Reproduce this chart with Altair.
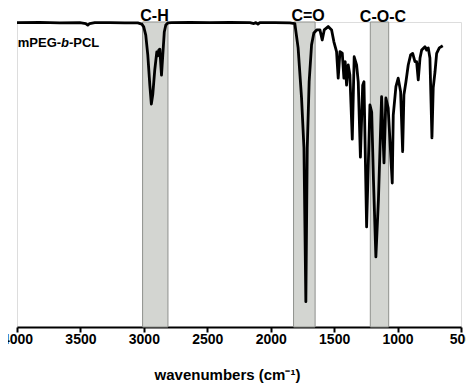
import altair as alt
import pandas as pd

# Spectrum: wavenumber (cm-1) and transmittance (%)
wavenumber = [4000, 3821, 3663, 3505, 3458, 3442, 3427, 3387, 3269, 3150, 3048, 3016,
              3001, 2985, 2969, 2953, 2941, 2930, 2914, 2898, 2890, 2882, 2874, 2861,
              2851, 2839, 2827, 2811, 2780, 2638, 2480, 2322, 2164, 2133, 2117, 2101,
              2086, 1967, 1849, 1810,
              1784, 1757, 1738, 1723, 1712, 1697, 1678, 1660, 1638, 1612, 1594, 1578,
              1547, 1520, 1502, 1481, 1468, 1454, 1436, 1423, 1413, 1402, 1389, 1376,
              1357, 1342, 1323, 1310, 1293, 1275, 1265, 1244, 1218, 1204, 1190, 1171,
              1151, 1126, 1107, 1092, 1074, 1042, 1034, 1013, 995, 976, 960, 950, 934,
              916, 897, 881, 863, 850, 837, 823, 810, 784, 771, 758, 745, 737, 729,
              719, 705, 692, 671, 644]
transmittance = [99.8, 99.9, 99.7, 99.8, 99.5, 99.0, 99.5, 99.8, 99.8, 99.7, 99.7, 99.3,
                 98.4, 95.7, 89.2, 79.3, 73.1, 76.1, 84.3, 90.2, 88.9, 90.8, 91.1, 82.6,
                 89.0, 96.7, 99.0, 99.7, 99.8, 99.9, 99.8, 99.9, 99.8, 99.5, 99.8, 99.3,
                 99.8, 99.8, 99.7, 99.5,
                 91.5, 75.1, 58.7, 8.3, 58.7, 80.4, 92.5, 96.4, 97.4, 97.4, 94.1, 97.4,
                 98.5, 97.4, 93.5, 90.3, 81.6, 90.3, 89.8, 81.6, 87.0, 79.3, 85.9, 82.6,
                 61.6, 88.6, 85.9, 80.4, 55.7, 79.3, 80.4, 32.8, 72.8, 70.5, 48.2, 23.0,
                 41.6, 75.5, 53.8, 75.1, 71.8, 47.2, 69.5, 78.8, 81.6, 77.1, 57.5, 76.1,
                 80.4, 85.9, 89.2, 89.7, 87.0, 87.0, 81.0, 88.2, 90.8, 91.9, 90.8, 91.5,
                 88.2, 75.1, 62.0, 78.4, 83.6, 89.7, 91.5, 92.2]

# Shaded bands
band_labels = ["C-H", "C=O", "C-O-C"]
band_start = [3010, 1820, 1215]
band_end = [2810, 1650, 1070]
band_label_x = [2916, 1705, 1115]
band_label_y = [101.9, 102.1, 101.6]

# Axis ticks
tick_values = [4000, 3750, 3500, 3250, 3000, 2750, 2500, 2250, 2000, 1750, 1500,
               1250, 1000, 750, 500]

FONT = "Liberation Sans"

spec = pd.DataFrame({"wn": wavenumber, "T": transmittance})
bands = pd.DataFrame({"label": band_labels, "x1": band_start, "x2": band_end,
                      "y1": [0] * 3, "y2": [100] * 3,
                      "lx": band_label_x, "ly": band_label_y})

xscale = alt.Scale(domain=[500, 4000], reverse=True, nice=False)
yscale = alt.Scale(domain=[0, 100], nice=False)

xaxis = alt.Axis(values=tick_values, format="d",
                 labelExpr="datum.value % 500 === 0 ? datum.label : ''",
                 title="wavenumbers (cm⁻¹)", grid=False,
                 domainColor="black", domainWidth=2, tickColor="black",
                 tickWidth=2, tickSize=5, labelFont=FONT, labelFontSize=14,
                 labelFontWeight="bold", labelColor="black", labelFlush=False,
                 labelOverlap=False, labelPadding=0,
                 titleFont=FONT, titleFontSize=15, titleFontWeight="bold",
                 titleColor="black", titleX=210, titleY=40, titleBaseline="top")

rects = alt.Chart(bands).mark_rect(color="#d3d5d1", stroke="#8f918d",
                                   strokeWidth=1).encode(
    x=alt.X("x1:Q", scale=xscale, axis=xaxis),
    x2="x2:Q",
    y=alt.Y("y1:Q", scale=yscale, axis=None),
    y2="y2:Q",
)

band_text = alt.Chart(bands).mark_text(font=FONT, fontSize=16, fontWeight="bold",
                                       color="black", baseline="middle").encode(
    x=alt.X("lx:Q", scale=xscale),
    y=alt.Y("ly:Q", scale=yscale),
    text="label:N",
)

line = alt.Chart(spec).mark_line(color="black", strokeWidth=2.8,
                                 strokeJoin="round").encode(
    x=alt.X("wn:Q", scale=xscale),
    y=alt.Y("T:Q", scale=yscale),
    order="idx:Q",
).transform_window(idx="row_number()")

name_df = pd.DataFrame({"x": [3994], "y": [93.1]})
parts = [("mPEG-", "normal", 0), ("b", "italic", 43.3), ("-PCL", "normal", 51.2)]
name_layers = []
for txt, style, dx in parts:
    name_layers.append(
        alt.Chart(name_df).mark_text(text=txt, font=FONT, fontSize=13,
                                     fontWeight="bold", fontStyle=style,
                                     color="black", align="left",
                                     baseline="middle", dx=dx).encode(
            x=alt.X("x:Q", scale=xscale),
            y=alt.Y("y:Q", scale=yscale),
        )
    )

chart = alt.layer(rects, line, band_text, *name_layers).properties(
    width=444, height=305,
    padding={"left": 9, "top": 14, "right": 5, "bottom": 60},
    autosize=alt.AutoSizeParams(type="none"),
).configure_view(stroke=None).configure(background="white")

chart.save("out.html", embed_options={"renderer": "svg", "actions": False})
